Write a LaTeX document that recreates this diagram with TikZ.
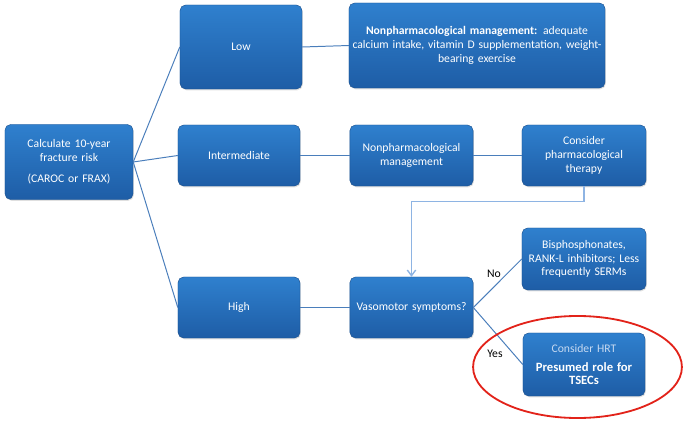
\documentclass[tikz,border=0pt]{standalone}
\usepackage{fontspec}
\setmainfont{Carlito}
\usetikzlibrary{shadows,arrows.meta}
\definecolor{boxtop}{HTML}{2F80CE}
\definecolor{boxbot}{HTML}{1E5DA6}
\definecolor{linkblue}{HTML}{4A7EBB}
\definecolor{arrowblue}{HTML}{8EB4E3}
\definecolor{paleblue}{HTML}{C6D9F1}
\definecolor{ringred}{HTML}{E2231A}
\tikzset{
  riskbox/.style={rounded corners=4pt, top color=boxtop, bottom color=boxbot,
    draw=boxbot!85!black, line width=0.3pt,
    drop shadow={opacity=0.25, shadow xshift=0.6pt, shadow yshift=-0.9pt},
    text=white, align=center, inner sep=2pt,
    font=\fontsize{8.3}{9.8}\selectfont},
  link/.style={draw=linkblue, line width=0.7pt},
}
\begin{document}
\begin{tikzpicture}[x=0.025cm, y=-0.025cm]
  \useasboundingbox (0,0) rectangle (685,421);
  % left column
  \node[riskbox, minimum width=3.2cm, minimum height=1.875cm, text width=3cm] (calc) at (69,162)
    {Calculate 10-year\\fracture risk\\[5pt](CAROC or FRAX)};
  % risk levels
  \node[riskbox, minimum width=3.05cm, minimum height=2.1cm, text width=2.9cm] (low) at (241,47) {Low};
  \node[riskbox, minimum width=3.05cm, minimum height=1.525cm, text width=2.9cm] (mid) at (239,155.5) {Intermediate};
  \node[riskbox, minimum width=3.05cm, minimum height=1.525cm, text width=2.9cm] (high) at (239,307.5) {High};
  % management
  \node[riskbox, inner xsep=0pt, minimum width=6.4cm, minimum height=2.125cm, text width=6.4cm] (lifestyle) at (477,45.5)
    {\textbf{Nonpharmacological management:} adequate\\calcium intake, vitamin D supplementation, weight-\\bearing exercise};
  \node[riskbox, minimum width=3.08cm, minimum height=1.525cm, text width=2.9cm] (nonpharm) at (411.5,155.5)
    {Nonpharmacological\\management};
  \node[riskbox, minimum width=3.1cm, minimum height=1.525cm, text width=2.9cm] (pharm) at (584,155.5)
    {Consider\\pharmacological\\therapy};
  \node[riskbox, minimum width=3.08cm, minimum height=1.525cm, text width=2.9cm] (vaso) at (411.5,307.5)
    {Vasomotor symptoms?};
  \node[riskbox, minimum width=3.1cm, minimum height=1.55cm, text width=2.9cm] (bisph) at (584,259)
    {Bisphosphonates,\\RANK-L inhibitors; Less\\frequently SERMs};
  \node[riskbox, minimum width=3.05cm, minimum height=1.575cm, text width=2.9cm] (hrt) at (584,364.5)
    {\textcolor{paleblue}{Consider HRT}\\[3pt]{\fontsize{9}{10.5}\selectfont\bfseries Presumed role for\\TSECs}};
  % connectors
  \draw[link] (calc.east) -- (low.west);
  \draw[link] (calc.east) -- (mid.west);
  \draw[link] (calc.east) -- (high.west);
  \draw[link] (low.east) -- (lifestyle.west);
  \draw[link] (mid.east) -- (nonpharm.west);
  \draw[link] (nonpharm.east) -- (pharm.west);
  \draw[link] (high.east) -- (vaso.west);
  \draw[arrowblue, line width=1pt, -{Straight Barb[length=4pt,width=6pt]}]
    (pharm.south) -- ++(0,15) -| (vaso.north);
  \draw[link] (vaso.east) -- (bisph.west);
  \draw[link] (vaso.east) -- (hrt.west);
  \node[font=\fontsize{8.3}{9.8}\selectfont] (no) at (494,274) {No};
  \node[font=\fontsize{8.3}{9.8}\selectfont] (yes) at (495,354) {Yes};
  % highlight
  \draw[ringred, line width=1.3pt] (577.5,367) ellipse [x radius=2.61cm, y radius=1.275cm];
\end{tikzpicture}
\end{document}
